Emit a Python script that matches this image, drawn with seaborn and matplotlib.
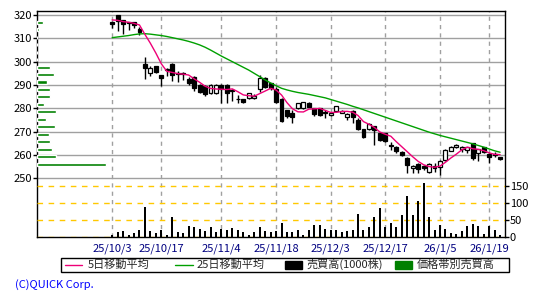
import numpy as np
import pandas as pd
import matplotlib
matplotlib.use("Agg")
import matplotlib.pyplot as plt
import seaborn as sns
from matplotlib.patches import Rectangle
from matplotlib.lines import Line2D

sns.set_theme(style="white")
plt.rcParams['font.family'] = ['Noto Sans CJK JP', 'DejaVu Sans']

# ---------------- data ----------------
holidays = ['2025-10-13', '2025-11-03', '2025-11-24', '2025-12-31',
            '2026-01-01', '2026-01-02', '2026-01-12']
dates = [d for d in pd.bdate_range('2025-10-03', '2026-01-21')
         if d.strftime('%Y-%m-%d') not in holidays]

opens = [317.1, 320.0, 317.9, 316.9, 316.9, 314.0, 299.0, 295.0, 298.1, 294.3,
         296.4, 299.0, 294.8, 294.7, 292.5, 293.3, 290.0, 289.6, 286.4, 286.4,
         290.0, 290.0, 288.0, 284.0, 283.9, 284.3, 284.3, 288.1, 292.9, 290.7,
         288.1, 283.9, 279.3, 277.9, 280.0, 280.0, 282.4, 280.0, 280.0, 278.3,
         277.1, 279.0, 278.1, 276.4, 279.0, 275.0, 271.0, 271.0, 272.4, 269.6,
         269.3, 264.0, 263.6, 261.4, 258.6, 254.3, 256.1, 255.3, 252.9, 255.3,
         255.0, 257.9, 261.9, 263.3, 262.4, 262.1, 265.0, 260.7, 263.3, 260.4,
         260.1, 259.0]
highs = [317.3, 320.2, 318.0, 317.0, 317.0, 315.0, 301.9, 298.1, 298.1, 294.3,
         297.5, 299.5, 296.0, 295.5, 293.5, 293.8, 290.5, 290.0, 290.3, 290.3,
         290.3, 290.3, 288.3, 285.7, 284.2, 286.7, 286.0, 294.3, 293.3, 291.0,
         289.0, 284.3, 279.5, 279.3, 282.4, 282.8, 282.6, 280.2, 280.2, 279.3,
         278.4, 281.2, 279.3, 277.9, 279.3, 275.7, 271.2, 273.6, 272.6, 270.0,
         269.6, 265.7, 264.0, 261.8, 259.0, 255.6, 256.4, 255.6, 256.4, 256.4,
         258.0, 262.4, 264.0, 264.6, 264.0, 263.6, 265.3, 262.7, 263.6, 260.7,
         261.4, 259.2]
lows = [314.3, 313.0, 311.9, 313.6, 314.3, 311.6, 292.6, 293.9, 295.0, 289.6,
        293.8, 291.9, 291.5, 292.0, 290.2, 287.5, 286.5, 285.5, 286.0, 286.0,
        282.1, 282.1, 283.1, 282.1, 282.5, 284.0, 284.0, 287.1, 288.6, 287.9,
        282.1, 274.3, 275.7, 273.9, 279.6, 279.8, 280.5, 276.8, 276.6, 275.7,
        276.9, 278.6, 278.0, 275.1, 273.7, 270.7, 267.5, 270.7, 264.3, 266.0,
        265.7, 262.1, 260.7, 259.6, 252.1, 252.1, 252.1, 253.5, 252.5, 252.9,
        251.4, 257.6, 261.6, 263.0, 261.4, 260.7, 258.0, 257.6, 261.0, 256.4,
        259.0, 258.0]
closes = [316.0, 317.4, 316.1, 316.7, 315.9, 312.6, 297.1, 297.1, 295.7, 292.9,
          296.7, 294.5, 294.6, 294.6, 291.0, 288.6, 287.1, 286.2, 289.8, 289.8,
          288.1, 286.4, 287.6, 283.8, 282.9, 286.4, 285.4, 293.1, 289.3, 288.6,
          282.9, 274.7, 276.7, 276.2, 282.1, 282.6, 280.7, 277.4, 277.1, 277.9,
          278.1, 281.0, 279.0, 277.6, 276.1, 271.0, 267.9, 273.3, 270.7, 266.4,
          266.1, 263.8, 261.6, 260.0, 255.7, 255.3, 253.9, 254.3, 256.1, 254.3,
          257.6, 262.1, 263.6, 264.3, 263.6, 263.3, 258.6, 262.4, 261.4, 259.0,
          260.0, 258.1]
prior_closes = [318.2, 319.0, 318.0, 318.3]

ma25 = [310.3, 310.6, 310.9, 311.2, 311.6, 311.9, 312.0, 311.8, 311.5, 311.2,
        310.8, 310.3, 309.8, 309.3, 308.7, 308.0, 307.2, 306.2, 305.0, 303.7,
        302.4, 301.2, 300.0, 298.8, 297.6, 296.4, 295.0, 293.6, 292.2, 290.9,
        289.7, 288.6, 287.9, 287.3, 286.8, 286.4, 286.0, 285.5, 285.0, 284.5,
        283.8, 283.1, 282.4, 281.7, 280.9, 280.2, 279.4, 278.6, 277.8, 277.0,
        276.2, 275.4, 274.6, 273.8, 273.0, 272.2, 271.4, 270.6, 269.8, 269.1,
        268.4, 267.8, 267.2, 266.6, 266.0, 265.4, 264.8, 264.1, 263.4, 262.6,
        261.8, 261.2]

volume = [5, 15, 18, 5, 12, 20, 87, 18, 12, 20,
          5, 60, 15, 12, 32, 29, 23, 17, 29, 14,
          23, 20, 26, 20, 14, 5, 14, 29, 17, 14,
          17, 41, 14, 14, 20, 5, 20, 35, 35, 23,
          20, 20, 14, 17, 20, 68, 20, 29, 59, 86,
          30, 41, 29, 65, 122, 65, 107, 161, 59, 20,
          35, 23, 11, 8, 17, 32, 38, 32, 8, 32,
          20, 5]

vbp_price = [256.1, 259.3, 262.5, 265.7, 268.9, 272.1, 275.3, 278.5, 281.7, 284.9,
             288.1, 291.3, 294.5, 297.7, 300.9, 304.1, 307.3, 310.5, 313.7, 316.9]
vbp_volume = [687, 187, 147, 127, 117, 177, 87, 187, 67, 127,
              127, 97, 167, 127, 0, 0, 0, 0, 17, 60]

price_ticks = [250, 260, 270, 280, 290, 300, 310, 320]
volume_ticks = [0, 50, 100, 150]
date_tick_labels = ["25/10/3", "25/10/17", "25/11/4", "25/11/18",
                    "25/12/3", "25/12/17", "26/1/5", "26/1/19"]
legend_labels = ["5日移動平均", "25日移動平均", "売買高(1000株)", "価格帯別売買高"]

# ---------------- derived ----------------
n = len(dates)
idx = np.arange(n)
ma5 = pd.Series(prior_closes + closes).rolling(5).mean().iloc[len(prior_closes):].to_numpy()
df = pd.DataFrame({"idx": idx, "ma5": ma5, "ma25": ma25})
labels_all = [f"{d.year % 100}/{d.month}/{d.day}" for d in dates]
tick_pos = [labels_all.index(l) for l in date_tick_labels]

C_MA5 = "#ee0077"
C_MA25 = "#00a000"
C_VBP = "#008000"
C_GRID = "#a0a0a0"
C_YEL = "#ffc800"

W, H = 550, 300
fig = plt.figure(figsize=(W / 100, H / 100), dpi=100)
fig.patch.set_facecolor("white")
L, R, T, B = 37.3, 505.0, 10.7, 236.7
ax = fig.add_axes([L / W, 1 - B / H, (R - L) / W, (B - T) / H])
ax.set_facecolor("white")
ax.set_xlim(-13.7, 71.9)
ax.set_ylim(225.0, 321.85)

# grid
for p in price_ticks:
    ax.axhline(p, color=C_GRID, lw=1, zorder=0)
for t in tick_pos:
    ax.axvline(t, color=C_GRID, lw=1, ls=(0, (3, 3)), zorder=0)

# candles
op = np.array(opens); cl = np.array(closes)
up = cl >= op
ax.vlines(idx, lows, highs, color="black", lw=1, zorder=2)
bottoms = np.minimum(op, cl)
heights = np.maximum(np.abs(cl - op), 0.35)
ax.bar(idx[up], heights[up], bottom=bottoms[up], width=0.72,
       color="white", edgecolor="black", linewidth=0.9, zorder=3)
ax.bar(idx[~up], heights[~up], bottom=bottoms[~up], width=0.72,
       color="black", edgecolor="black", linewidth=0.9, zorder=3)

# moving averages
sns.lineplot(data=df, x="idx", y="ma25", color=C_MA25, lw=1, ax=ax, zorder=4)
sns.lineplot(data=df, x="idx", y="ma5", color=C_MA5, lw=1, ax=ax, zorder=5)

# price axis
ax.set_yticks(price_ticks)
ax.set_yticklabels([str(p) for p in price_ticks], fontsize=8, color="black")
ax.set_xticks(tick_pos)
ax.set_xticklabels(date_tick_labels, fontsize=8, color="#000080")
ax.tick_params(axis="y", which="both", left=True, length=3, width=1, pad=0.5, color="black")
ax.tick_params(axis="x", which="both", bottom=True, length=0, pad=5)
ax.set_xlabel(""); ax.set_ylabel("")
for s in ax.spines.values():
    s.set_color("black"); s.set_linewidth(1)

# volume axis
axv = ax.twinx()
axv.set_ylim(0, 672)
for v in volume_ticks:
    axv.axhline(v, color=C_YEL, lw=1, ls=(0, (4, 4)), zorder=0)
axv.vlines(idx, 0, volume, color="black", lw=1.1, antialiased=False, zorder=2)
axv.set_yticks(volume_ticks)
axv.set_yticklabels([str(v) for v in volume_ticks], fontsize=8, color="black")
axv.tick_params(axis="y", right=True, length=3, width=1, pad=0.5, color="black")
for s in axv.spines.values():
    s.set_visible(False)

# volume by price
axp = ax.twiny()
axp.set_xlim(0, 4677)
axp.barh(vbp_price, vbp_volume, height=1.3, color=C_VBP, zorder=2)
axp.set_xticks([])
for s in axp.spines.values():
    s.set_visible(False)

# legend box (figure pixels)
def fx(x): return x / W
def fy(y): return 1 - y / H
fig.patches.append(Rectangle((fx(61), fy(271.7)), (509.3 - 61) / W, 14 / H,
                             transform=fig.transFigure, fill=False,
                             edgecolor="black", lw=1))
ly = 264.7
fig.lines.append(Line2D([fx(65), fx(81.7)], [fy(ly), fy(ly)], color=C_MA5, lw=1,
                        transform=fig.transFigure))
fig.text(fx(87.3), fy(ly), legend_labels[0], fontsize=8, va="center", ha="left")
fig.lines.append(Line2D([fx(175), fx(193.3)], [fy(ly), fy(ly)], color=C_MA25, lw=1,
                        transform=fig.transFigure))
fig.text(fx(197), fy(ly), legend_labels[1], fontsize=8, va="center", ha="left")
fig.patches.append(Rectangle((fx(285), fy(268.7)), 16.7 / W, 8 / H,
                             transform=fig.transFigure, color="black"))
fig.text(fx(306.7), fy(ly), legend_labels[2], fontsize=8, va="center", ha="left")
fig.patches.append(Rectangle((fx(395), fy(268.7)), 16.7 / W, 8 / H,
                             transform=fig.transFigure, color=C_VBP))
fig.text(fx(416.7), fy(ly), legend_labels[3], fontsize=8, va="center", ha="left")

fig.text(fx(15), fy(285), "(C)QUICK Corp.", fontsize=8, color="#0000ff",
         va="center", ha="left")

fig.savefig("out.png", dpi=100)
